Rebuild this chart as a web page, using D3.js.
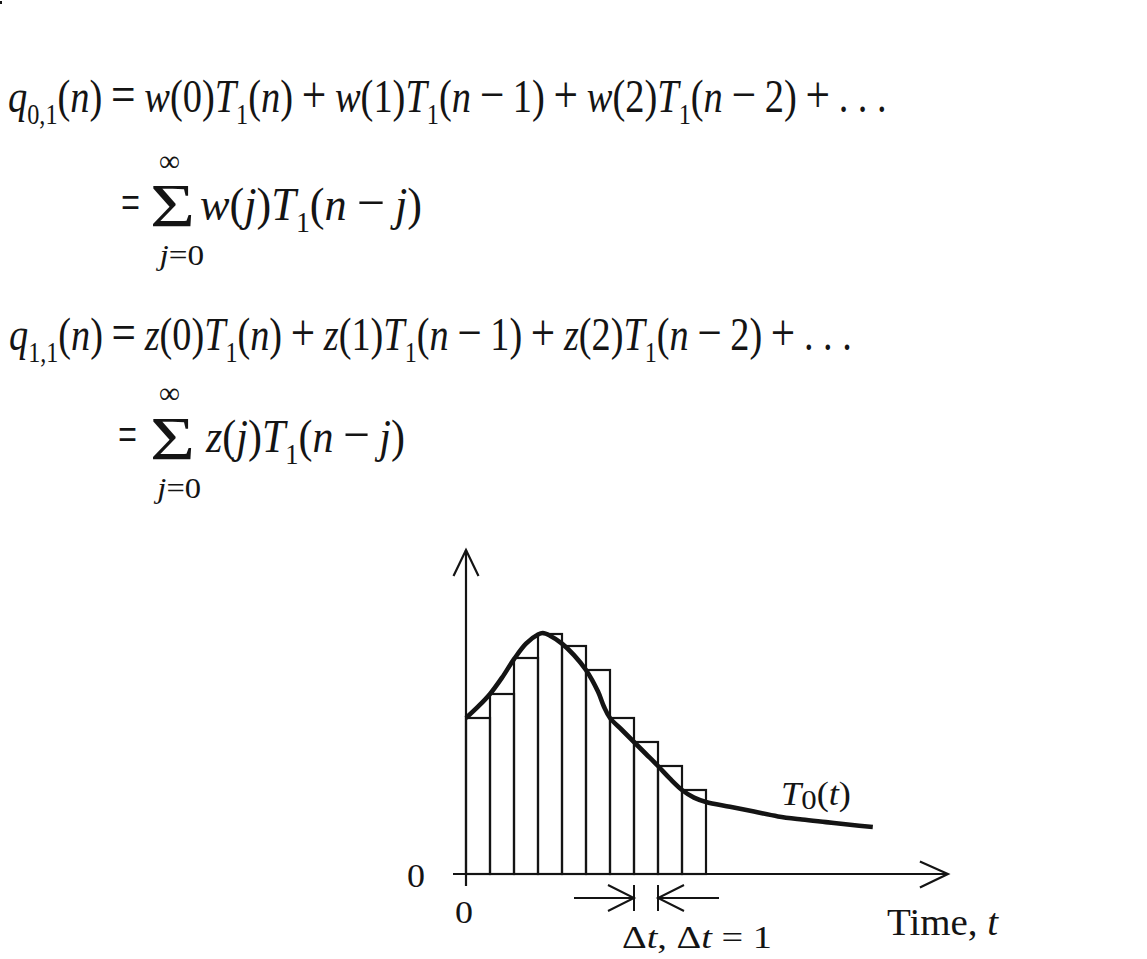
<!DOCTYPE html>
<html><head><meta charset="utf-8">
<script src="https://cdn.jsdelivr.net/npm/d3@7"></script>
<style>
html,body{margin:0;padding:0;background:#fff;}
svg{display:block;}
text{font-family:"Liberation Serif","Times New Roman",serif;fill:#141414;white-space:pre;}
</style></head><body>
<svg id="c" width="1147" height="959"></svg>
<script>
// ---------- data ----------
const binStart = [0, 1, 2, 3, 4, 5, 6, 7, 8, 9];
const binValue = [6.5, 7.5, 9.0, 10.0, 9.5, 8.5, 6.5, 5.5, 4.5, 3.5];
const curveT = [0, 0.5, 1, 1.5, 2, 2.5, 3, 3.2, 3.5, 4, 4.5, 5, 5.5, 5.75, 6, 6.5, 7, 7.5, 8, 8.5, 9, 9.5, 10, 11, 12, 13, 14, 15, 16, 16.95];
const curveV = [6.5, 6.97, 7.5, 8.18, 8.95, 9.6, 9.98, 10.04, 9.93, 9.6, 9.12, 8.5, 7.6, 6.97, 6.5, 6.0, 5.5, 5.0, 4.5, 3.97, 3.5, 3.18, 3.0, 2.8, 2.6, 2.4, 2.27, 2.16, 2.05, 1.96];
const xTickLabels = ["0"];
const yTickLabels = ["0"];
const curveLabel = ["T", "0", "(t)"];
const xAxisLabel = ["Time, ", "t"];

const svg = d3.select("#c");
const ink = "#141414";

// ---------- scales ----------
const x = d3.scaleLinear().domain([0, 20]).range([466, 946]);
const y = d3.scaleLinear().domain([0, 10]).range([874, 634]);

// ---------- helpers ----------
function fit(sel, x0, x1) {
  const bb = sel.node().getBBox();
  const sx = (x1 - x0) / bb.width;
  sel.attr("transform", `translate(${x0},0) scale(${sx},1) translate(${-bb.x},0)`);
  return sel;
}
const OPS = 52;
function mathText(x0, base, parts, x1, size, subSize, subShift) {
  const t = svg.append("text").attr("x", 0).attr("y", base).style("font-size", size + "px");
  let off = 0;
  parts.forEach(([s, k]) => {
    const sp = t.append("tspan").text(s);
    const target = k === "sub" ? subShift : 0;
    sp.attr("dy", target - off);
    off = target;
    if (k === "i") sp.style("font-style", "italic");
    if (k === "sub") sp.style("font-size", subSize + "px");
    if (k === "op") sp.style("font-size", OPS + "px");
  });
  return fit(t, x0, x1);
}
function plain(str, x0, x1, base, size, italic) {
  const t = svg.append("text").attr("x", 0).attr("y", base).style("font-size", size + "px").text(str);
  if (italic) t.style("font-style", "italic");
  return fit(t, x0, x1);
}

// ---------- equations ----------
const FS = 46, SS = 29, SH = 12;
const s = "\u2009";
const EQ = s + "=" + s, PL = s + "+" + s, MI = s + "\u2212" + s;
const line1 = [["q","i"],["0,1","sub"],["(","r"],["n","i"],[")","r"],[EQ,"op"],["w","i"],["(0)","r"],["T","i"],["1","sub"],["(","r"],["n","i"],[")","r"],[PL,"op"],["w","i"],["(1)","r"],["T","i"],["1","sub"],["(","r"],["n","i"],[MI,"op"],["1)","r"],[PL,"op"],["w","i"],["(2)","r"],["T","i"],["1","sub"],["(","r"],["n","i"],[MI,"op"],["2)","r"],[PL,"op"],[". . .","r"]];
mathText(8, 112, line1, 887, FS, SS, SH);

plain("=", 121, 140, 220, OPS, false);
plain("\u03A3", 150, 195, 226, 62, false);
plain("\u221E", 159, 180, 171, 30, false);
mathText(155, 265, [["j","i"],["=0","r"]], 204, 30, 30, 0);
mathText(200, 220, [["w","i"],["(","r"],["j","i"],[")","r"],["T","i"],["1","sub"],["(","r"],["n","i"],[MI,"op"],["j","i"],[")","r"]], 422, FS, SS, SH);

const line3 = [["q","i"],["1,1","sub"],["(","r"],["n","i"],[")","r"],[EQ,"op"],["z","i"],["(0)","r"],["T","i"],["1","sub"],["(","r"],["n","i"],[")","r"],[PL,"op"],["z","i"],["(1)","r"],["T","i"],["1","sub"],["(","r"],["n","i"],[MI,"op"],["1)","r"],[PL,"op"],["z","i"],["(2)","r"],["T","i"],["1","sub"],["(","r"],["n","i"],[MI,"op"],["2)","r"],[PL,"op"],[". . .","r"]];
mathText(9, 350, line3, 852, FS, SS, SH);

plain("=", 118, 137, 452, OPS, false);
plain("\u03A3", 150, 195, 459, 62, false);
plain("\u221E", 159, 180, 403, 30, false);
mathText(153, 498, [["j","i"],["=0","r"]], 201, 30, 30, 0);
mathText(205, 452, [["z","i"],["(","r"],["j","i"],[")","r"],["T","i"],["1","sub"],["(","r"],["n","i"],[MI,"op"],["j","i"],[")","r"]], 405, FS, SS, SH);

// ---------- chart ----------
const g = svg.append("g").attr("fill", "none").attr("stroke", ink);

// bars
g.selectAll("rect.bin").data(binStart).join("rect")
  .attr("class", "bin")
  .attr("x", d => x(d))
  .attr("width", d => x(d + 1) - x(d))
  .attr("y", (d, i) => y(binValue[i]))
  .attr("height", (d, i) => y(0) - y(binValue[i]))
  .attr("stroke-width", 2.2);

// axes
const x0p = x(0), y0p = y(0);
const xEnd = x(20.08), yTop = y(13.5);
g.append("line").attr("x1", x0p - 13).attr("x2", xEnd).attr("y1", y0p).attr("y2", y0p).attr("stroke-width", 2.2);
g.append("line").attr("x1", x0p).attr("x2", x0p).attr("y1", y0p + 12).attr("y2", yTop).attr("stroke-width", 2.2);
g.append("path").attr("d", `M${x0p - 12.5},${yTop + 26}L${x0p},${yTop}L${x0p + 12.5},${yTop + 26}`).attr("stroke-width", 2.2);
g.append("path").attr("d", `M${xEnd - 28},${y0p - 12.5}L${xEnd},${y0p}L${xEnd - 28},${y0p + 13.5}`).attr("stroke-width", 2.2);

// curve
const pts = curveT.map((t, i) => [t, curveV[i]]);
g.append("path").datum(pts)
  .attr("d", d3.line().x(d => x(d[0])).y(d => y(d[1])).curve(d3.curveCatmullRom.alpha(0.5)))
  .attr("stroke-width", 4.6).attr("stroke-linecap", "butt").attr("stroke-linejoin", "round");

// delta t markers
const dy = y0p + 24;
const aL = x(7), aR = x(8);
g.append("line").attr("x1", aL - 60).attr("x2", aL).attr("y1", dy).attr("y2", dy).attr("stroke-width", 2);
g.append("path").attr("d", `M${aL - 26},${dy - 13}L${aL},${dy}L${aL - 26},${dy + 13}`).attr("stroke-width", 2);
g.append("line").attr("x1", aL).attr("x2", aL).attr("y1", dy - 13).attr("y2", dy + 13).attr("stroke-width", 2);
g.append("line").attr("x1", aR).attr("x2", aR + 61).attr("y1", dy).attr("y2", dy).attr("stroke-width", 2);
g.append("path").attr("d", `M${aR + 26},${dy - 13}L${aR},${dy}L${aR + 26},${dy + 13}`).attr("stroke-width", 2);
g.append("line").attr("x1", aR).attr("x2", aR).attr("y1", dy - 13).attr("y2", dy + 13).attr("stroke-width", 2);

// labels
plain(yTickLabels[0], 407, 425, 887, 33, false);
plain(xTickLabels[0], 455, 473, 923, 32, false);

const st = svg.append("text").attr("x", 0).attr("y", 948).style("font-size", "32px");
st.append("tspan").text("\u0394");
st.append("tspan").text("t").style("font-style", "italic");
st.append("tspan").text(", \u0394");
st.append("tspan").text("t").style("font-style", "italic");
st.append("tspan").text(" = 1");
fit(st, 622, 772);

mathText(781, 805, [[curveLabel[0], "i"], [curveLabel[1], "sub"], ["(", "r"], ["t", "i"], [")", "r"]], 851, 33, 28, 4);

const tl = svg.append("text").attr("x", 0).attr("y", 935).style("font-size", "37px");
tl.append("tspan").text(xAxisLabel[0]);
tl.append("tspan").text(xAxisLabel[1]).style("font-style", "italic");
fit(tl, 887, 1000);

// small corner mark
svg.append("rect").attr("x", 0).attr("y", 1).attr("width", 2).attr("height", 3).attr("fill", ink);
</script>
</body></html>
